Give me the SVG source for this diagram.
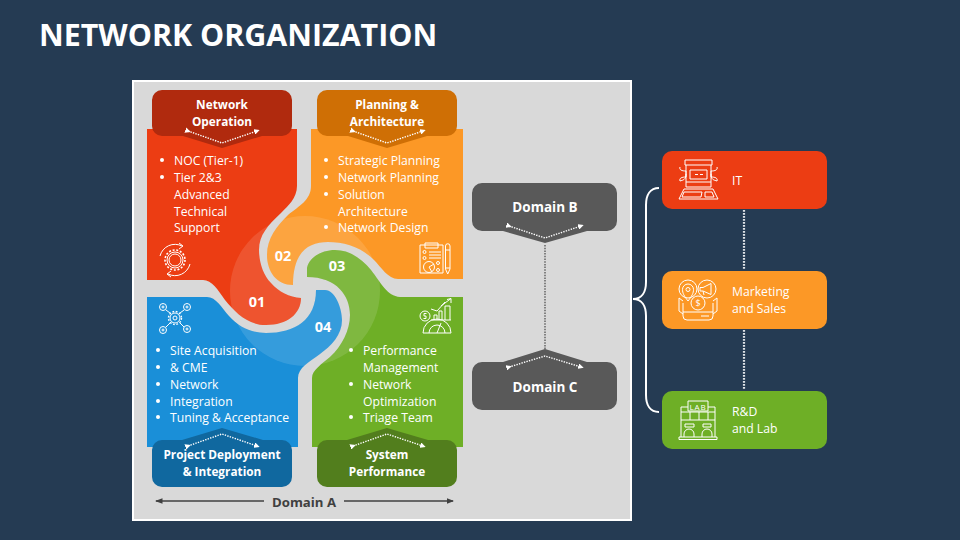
<svg xmlns="http://www.w3.org/2000/svg" xmlns:xlink="http://www.w3.org/1999/xlink" width="960" height="540" viewBox="0 0 960 540">
<style>
text{font-family:"Open Sans","Liberation Sans",sans-serif;fill:#fff}
.t{font-size:12.2px;font-weight:500}
.h{font-size:11.8px;font-weight:700;text-anchor:middle}
.n{font-size:13.5px;font-weight:700;text-anchor:middle}
.num{font-size:14.5px;font-weight:700;text-anchor:middle}
.d{fill:none;stroke:#fff;stroke-width:1.4;stroke-dasharray:1.4 1.2}
.i{fill:none;stroke:#fff;stroke-width:1;stroke-linejoin:round}
.b{fill:#fff}
</style>
<defs>
<path id="p1" d="M147 129H297V186C297 198 288 206 281 213C268 225 259 235 259 250C259 262 263 275 271 283C279 292 289 297 301 298C301 314 287 325 266 325C247 325 235 312 225 300C218 290 212 280 203 280H147Z"/>
<path id="p2" d="M311 129H463V279H398C388 279 381 267 374 260C361 247 345 242 328 242C308 242 293 252 293 285C277 285 267 272 267 255C267 238 277 226 288 215C299 206 311 200 311 186Z"/>
<path id="p3" d="M312 447V378C312 370 322 364 330 357C342 346 350 330 350 315C350 296 337 277 307 277V268C309 257 322 250 335 250C350 250 362 259 371 270C381 283 387 296 400 297H463V447Z"/>
<path id="p4" d="M147 297H207C216 297 222 308 229 316C239 327 251 333 266 333C295 333 316 320 316 290H325C335 290 342 308 342 320C342 335 331 346 320 354C309 362 298 368 298 378V447H147Z"/>
<clipPath id="swirl"><use xlink:href="#p1"/><use xlink:href="#p2"/><use xlink:href="#p3"/><use xlink:href="#p4"/></clipPath>
<marker id="ah" viewBox="0 0 6 6" refX="3" refY="3" markerWidth="4" markerHeight="4" orient="auto"><path d="M0 0L6 3L0 6Z" fill="#fff"/></marker>
<marker id="ak" viewBox="0 0 6 6" refX="5" refY="3" markerWidth="6" markerHeight="6" orient="auto-start-reverse"><path d="M0 .8L6 3L0 5.2Z" fill="#404040"/></marker>
</defs>
<rect width="960" height="540" fill="#253B53"/>
<text x="39" y="46" style="font-size:30.400px;font-weight:700">NETWORK ORGANIZATION</text>
<rect id="panel" x="133" y="81" width="498" height="439" fill="#D9D9D9" stroke="#fff" stroke-width="2"/>

<g id="connectors">
<path d="M545 245V349" fill="none" stroke="#6b6b6b" stroke-width="1.6" stroke-dasharray="1.5 1.2"/>
<path d="M744 210V270M744 330V390" fill="none" stroke="#dfe3e8" stroke-width="2.200" stroke-dasharray="1.8 1.200"/>
<path d="M659 188C650 188 646 195 646 205V282C646 292 642 299 633 299C642 299 646 306 646 316V395C646 405 650 412 659 412" fill="none" stroke="#fff" stroke-width="2"/>
<path d="M264 501H156" fill="none" stroke="#404040" stroke-width="1.3" marker-end="url(#ak)"/>
<path d="M344 501H453" fill="none" stroke="#404040" stroke-width="1.3" marker-end="url(#ak)"/>
</g>

<g id="node-01">
<use xlink:href="#p1" fill="#EC3D13"/>
<path d="M152 100a10 10 0 0 1 10-10H282a10 10 0 0 1 10 10V126a10 10 0 0 1-10 10H262L222 148L183 136H162a10 10 0 0 1-10-10Z" fill="#B02A0E"/>
<path class="d" d="M188 131L222 143L257 131" marker-start="url(#ah)" marker-end="url(#ah)"/>
<text class="h" x="222" y="109">Network</text><text class="h" x="222" y="126">Operation</text>
<text class="t" x="174" y="165">NOC (Tier-1)</text><text class="t" x="174" y="182">Tier 2&amp;3</text><text class="t" x="174" y="199">Advanced</text><text class="t" x="174" y="216">Technical</text><text class="t" x="174" y="232">Support</text>
<circle class="b" cx="162" cy="160" r="2"/><circle class="b" cx="162" cy="177" r="2"/>
<g class="i"><circle cx="175" cy="260" r="6"/><circle cx="175" cy="260" r="8"/><circle cx="175" cy="260" r="10" stroke-width="1.6" stroke-dasharray="2 1.700"/><path d="M182 246A15.500 15.500 0 0 0 160 256M168 274A15.500 15.500 0 0 0 190 264M179 243L183 246L179 249M171 277L167 274L171 271"/></g>
</g>

<g id="node-02">
<use xlink:href="#p2" fill="#FC9826"/>
<path d="M317 100a10 10 0 0 1 10-10H447a10 10 0 0 1 10 10V126a10 10 0 0 1-10 10H427L387 148L348 136H327a10 10 0 0 1-10-10Z" fill="#CF6F05"/>
<path class="d" d="M353 131L387 143L423 131" marker-start="url(#ah)" marker-end="url(#ah)"/>
<text class="h" x="387" y="109">Planning &amp;</text><text class="h" x="387" y="126">Architecture</text>
<text class="t" x="338" y="165">Strategic Planning</text><text class="t" x="338" y="182">Network Planning</text><text class="t" x="338" y="199">Solution</text><text class="t" x="338" y="216">Architecture</text><text class="t" x="338" y="232">Network Design</text>
<circle class="b" cx="326" cy="160" r="2"/><circle class="b" cx="326" cy="177" r="2"/><circle class="b" cx="326" cy="194" r="2"/><circle class="b" cx="326" cy="227" r="2"/>
<g class="i"><rect x="420" y="245" width="23" height="28"/><rect x="425" y="243" width="13" height="5"/><path d="M429 252H441M429 255H441M429 258H441"/><circle cx="424.500" cy="252" r="1.500"/><circle cx="424.500" cy="258" r="1.500"/><circle cx="429" cy="267" r="5.500"/><circle cx="438" cy="263" r="1.500"/><circle cx="438" cy="270" r="1.500"/><path d="M429 267L434 264M429 267L432 272"/><path d="M445.500 246a2.200 2.200 0 0 1 4.500 0V269L447.700 274L445.500 269ZM445.500 250H450M445.500 268H450"/></g>
</g>

<g id="node-03">
<use xlink:href="#p3" fill="#6EAF26"/>
<path d="M317 450a10 10 0 0 1 10-10H347L387 428L428 440H447a10 10 0 0 1 10 10V477a10 10 0 0 1-10 10H327a10 10 0 0 1-10-10Z" fill="#527E1D"/>
<path class="d" d="M353 446L387 434L423 446" marker-start="url(#ah)" marker-end="url(#ah)"/>
<text class="h" x="387" y="459">System</text><text class="h" x="387" y="476">Performance</text>
<text class="t" x="363" y="355">Performance</text><text class="t" x="363" y="372">Management</text><text class="t" x="363" y="389">Network</text><text class="t" x="363" y="406">Optimization</text><text class="t" x="363" y="422">Triage Team</text>
<circle class="b" cx="351" cy="350" r="2"/><circle class="b" cx="351" cy="384" r="2"/><circle class="b" cx="351" cy="417" r="2"/>
<g class="i"><circle cx="425" cy="316" r="5"/><path d="M426.500 313.500H424V316H426V318.500H423.500M434 320V315H437V320M439 320V311H442V320M445 320V306H450V320M431 320H451M431 309L437 311L445 302M447 299.500L451 298.500L451 303M441 306L451 298.500"/><path d="M423 333A14 14 0 0 1 451 333H423M429 333A8 8 0 0 1 445 333M437 333L441 323"/></g>
</g>

<g id="node-04">
<use xlink:href="#p4" fill="#1A8FD8"/>
<path d="M152 450a10 10 0 0 1 10-10H182L222 428L263 440H282a10 10 0 0 1 10 10V477a10 10 0 0 1-10 10H162a10 10 0 0 1-10-10Z" fill="#10689F"/>
<path class="d" d="M188 446L222 434L257 446" marker-start="url(#ah)" marker-end="url(#ah)"/>
<text class="h" x="222" y="459">Project Deployment</text><text class="h" x="222" y="476">&amp; Integration</text>
<text class="t" x="170" y="355">Site Acquisition</text><text class="t" x="170" y="372">&amp; CME</text><text class="t" x="170" y="389">Network</text><text class="t" x="170" y="406">Integration</text><text class="t" x="170" y="422">Tuning &amp; Acceptance</text>
<circle class="b" cx="158" cy="350" r="2"/><circle class="b" cx="158" cy="367" r="2"/><circle class="b" cx="158" cy="384" r="2"/><circle class="b" cx="158" cy="401" r="2"/><circle class="b" cx="158" cy="417" r="2"/>
<g class="i"><circle cx="175" cy="318" r="5"/><circle cx="175" cy="318" r="6.500" stroke-width="1.400" stroke-dasharray="1.800 1.600"/><circle cx="175" cy="318" r="2"/><path d="M170 313L166 310M180 313L184 310M170 323L166 327M180 323L184 327"/><circle cx="163" cy="307" r="3.500"/><circle cx="187" cy="307" r="3.500"/><circle cx="163" cy="330" r="3.500"/><circle cx="187" cy="329" r="3.500"/><circle cx="163" cy="307" r="1"/><circle cx="187" cy="307" r="1"/><circle cx="163" cy="330" r="1"/><circle cx="187" cy="329" r="1"/></g>
</g>

<circle id="overlay" cx="305" cy="291" r="75" fill="#fff" opacity=".12" clip-path="url(#swirl)"/>
<text class="num" x="257" y="307">01</text><text class="num" x="283" y="261">02</text><text class="num" x="337" y="271">03</text><text class="num" x="323" y="332">04</text>

<text x="304" y="507" style="font-size:13.200px;font-weight:700;fill:#404040;text-anchor:middle">Domain A</text>

<g id="domain-b"><path d="M472 193a10 10 0 0 1 10-10H607a10 10 0 0 1 10 10V221a10 10 0 0 1-10 10H587L545 243L503 231H482a10 10 0 0 1-10-10Z" fill="#595959"/>
<path class="d" d="M509 226L545 238L581 226" marker-start="url(#ah)" marker-end="url(#ah)"/>
<text class="n" x="545" y="212">Domain B</text></g>
<g id="domain-c"><path d="M472 372a10 10 0 0 1 10-10H503L545 349L587 362H607a10 10 0 0 1 10 10V400a10 10 0 0 1-10 10H482a10 10 0 0 1-10-10Z" fill="#595959"/>
<path class="d" d="M509 367L545 356L581 367" marker-start="url(#ah)" marker-end="url(#ah)"/>
<text class="n" x="545" y="392">Domain C</text></g>

<g id="it"><rect x="662" y="151" width="165" height="58" rx="10" fill="#EC3D13"/>
<g class="i" stroke-width="1.100"><path d="M685 160H712V165H685ZM686 165V187M711 165V187M686 187H711M690 170H707V179H690ZM686 182H711"/><path d="M695 174.500H698M700 174.500H703"/><path d="M680 167C679 170 682 171 686 171V177C682 177 679 178 680 181C683 180 686 180 686 174M717 167C718 170 715 171 711 171V177C715 177 718 178 717 181C714 180 711 180 711 174"/><path d="M684 189H713L718 199H679ZM684 192H702L701 197H682ZM705 192H712L714 197H705Z"/></g>
<text class="t" x="732" y="185">IT</text></g>

<g id="marketing"><rect x="662" y="271" width="165" height="58" rx="10" fill="#FC9826"/>
<g class="i" stroke-width="1.100"><circle cx="688" cy="289" r="9"/><path d="M688 301C684 296 682.500 293 682.500 289.500A5.500 5.500 0 0 1 693.500 289.500C693.500 293 692 296 688 301Z"/><circle cx="688" cy="289.500" r="2"/><circle cx="707" cy="289" r="9"/><path d="M700 287.500H703L711 283.500V294.500L703 291H700ZM703 291L704 295"/><circle cx="698" cy="303" r="7"/><path d="M683 303V316a4 4 0 0 0 4 4H709a4 4 0 0 0 4-4V303M679 298L683 301M679 298V311L683 314M717 298L713 301M717 298V311L713 314M683 312H713M701 316H709"/></g>
<text x="698" y="306" text-anchor="middle" style="font-size:9px;font-weight:400">$</text>
<text class="t" x="732" y="296">Marketing</text><text class="t" x="732" y="313">and Sales</text></g>

<g id="rnd"><rect x="662" y="391" width="165" height="58" rx="10" fill="#6EAF26"/>
<g class="i" stroke-width="1.100"><rect x="688" y="401" width="20" height="10"/><path d="M681 407H688M708 407H715M681 407V437M715 407V437M681 420H715M681 412H715M690 412V420M699 412V420M708 412V420M679 437H717V439.500H679ZM685 424H694V427H685ZM703 424H711V427H703ZM684 437V434a5 5 0 0 1 10 0V437M702 437V434a5 5 0 0 1 10 0V437"/></g>
<text x="698" y="409.500" text-anchor="middle" style="font-size:8px;font-weight:400;letter-spacing:.8px">LAB</text>
<text class="t" x="732" y="416">R&amp;D</text><text class="t" x="732" y="433">and Lab</text></g>
</svg>
